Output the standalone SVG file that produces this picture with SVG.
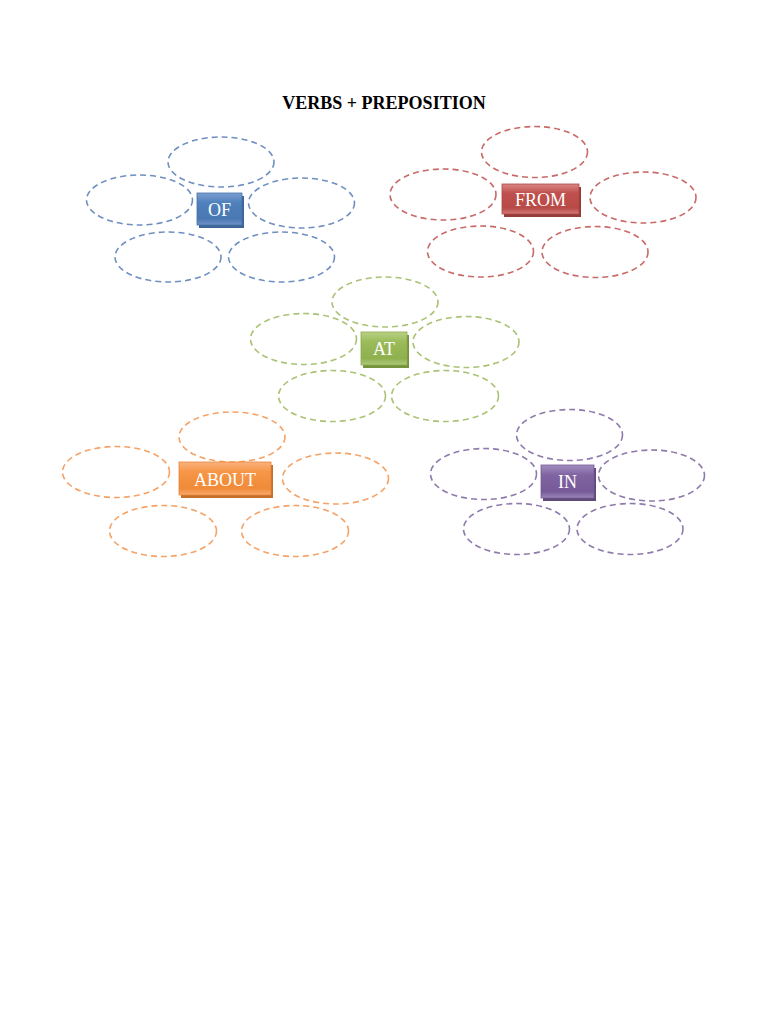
<svg xmlns="http://www.w3.org/2000/svg" width="768" height="1024" viewBox="0 0 768 1024">
<style>
  .e { fill: none; stroke-width: 1.6; stroke-dasharray: 6 4; }
  .blue .e { stroke: #6f8fc0; }
  .red .e { stroke: #c86a68; }
  .green .e { stroke: #a9c274; }
  .orange .e { stroke: #f5a266; }
  .purple .e { stroke: #8f7aac; }
  .lbl { font-family: "Liberation Serif", "DejaVu Serif", serif; font-size: 18px; fill: #ffffff; text-anchor: middle; }
  .title { font-family: "Liberation Serif", "DejaVu Serif", serif; font-size: 18px; font-weight: bold; fill: #000000; text-anchor: middle; }
</style>
<defs>
  <linearGradient id="gBlue" x1="0" y1="0" x2="0" y2="1">
    <stop offset="0" stop-color="#7d9fd0"/><stop offset="0.3" stop-color="#4f81bd"/><stop offset="0.8" stop-color="#4a78b2"/><stop offset="1" stop-color="#6f93c8"/>
  </linearGradient>
  <linearGradient id="gRed" x1="0" y1="0" x2="0" y2="1">
    <stop offset="0" stop-color="#d98785"/><stop offset="0.3" stop-color="#c0504d"/><stop offset="0.8" stop-color="#b84a47"/><stop offset="1" stop-color="#d27a78"/>
  </linearGradient>
  <linearGradient id="gGreen" x1="0" y1="0" x2="0" y2="1">
    <stop offset="0" stop-color="#b8d184"/><stop offset="0.3" stop-color="#9bbb59"/><stop offset="0.8" stop-color="#8fb04f"/><stop offset="1" stop-color="#afc97a"/>
  </linearGradient>
  <linearGradient id="gOrange" x1="0" y1="0" x2="0" y2="1">
    <stop offset="0" stop-color="#fab27e"/><stop offset="0.3" stop-color="#f79646"/><stop offset="0.8" stop-color="#ef8a38"/><stop offset="1" stop-color="#f9aa70"/>
  </linearGradient>
  <linearGradient id="gPurple" x1="0" y1="0" x2="0" y2="1">
    <stop offset="0" stop-color="#a28ec0"/><stop offset="0.3" stop-color="#8064a2"/><stop offset="0.8" stop-color="#765a98"/><stop offset="1" stop-color="#9a85b8"/>
  </linearGradient>
</defs>
<rect width="768" height="1024" fill="#ffffff"/>
<text class="title" x="384" y="108.5">VERBS + PREPOSITION</text>

<g id="of" class="blue">
  <ellipse class="e" cx="221" cy="162" rx="53" ry="25"/>
  <ellipse class="e" cx="139.5" cy="200" rx="53" ry="25"/>
  <ellipse class="e" cx="301.5" cy="203" rx="53" ry="25"/>
  <ellipse class="e" cx="168" cy="257" rx="53" ry="25"/>
  <ellipse class="e" cx="281.5" cy="257" rx="53" ry="25"/>
  <rect x="199" y="196" width="45" height="32" fill="#3d6596"/>
  <rect x="197" y="193" width="45" height="32" fill="url(#gBlue)" stroke="#4572a8" stroke-width="0.8"/>
  <text class="lbl" x="219.5" y="215.5">OF</text>
</g>

<g id="from" class="red">
  <ellipse class="e" cx="534.5" cy="152" rx="53" ry="25.5"/>
  <ellipse class="e" cx="443" cy="194.5" rx="53" ry="25.5"/>
  <ellipse class="e" cx="643" cy="197.5" rx="53" ry="25.5"/>
  <ellipse class="e" cx="480.5" cy="251.5" rx="53" ry="25.5"/>
  <ellipse class="e" cx="595" cy="252" rx="53" ry="25.5"/>
  <rect x="504" y="187" width="77" height="30" fill="#943c3a"/>
  <rect x="502" y="184" width="77" height="30" fill="url(#gRed)" stroke="#b04845" stroke-width="0.8"/>
  <text class="lbl" x="540.5" y="205.5">FROM</text>
</g>

<g id="at" class="green">
  <ellipse class="e" cx="385" cy="302" rx="53" ry="25"/>
  <ellipse class="e" cx="303.5" cy="339" rx="53" ry="25.5"/>
  <ellipse class="e" cx="466" cy="342" rx="53" ry="25.5"/>
  <ellipse class="e" cx="332" cy="396" rx="53.5" ry="25.5"/>
  <ellipse class="e" cx="445" cy="396" rx="53.5" ry="25.5"/>
  <rect x="363" y="335" width="46" height="33" fill="#76923c"/>
  <rect x="361" y="332" width="46" height="33" fill="url(#gGreen)" stroke="#8aaa4e" stroke-width="0.8"/>
  <text class="lbl" x="384" y="355">AT</text>
</g>

<g id="about" class="orange">
  <ellipse class="e" cx="232" cy="437" rx="53" ry="25"/>
  <ellipse class="e" cx="116" cy="472" rx="53.5" ry="25.5"/>
  <ellipse class="e" cx="335.5" cy="478.5" rx="53" ry="25.5"/>
  <ellipse class="e" cx="163" cy="531" rx="53.5" ry="25.5"/>
  <ellipse class="e" cx="295" cy="531" rx="53.5" ry="25.5"/>
  <rect x="181" y="465" width="92" height="33" fill="#c46f2a"/>
  <rect x="179" y="462" width="92" height="33" fill="url(#gOrange)" stroke="#e5853a" stroke-width="0.8"/>
  <text class="lbl" x="225" y="485.5">ABOUT</text>
</g>

<g id="in" class="purple">
  <ellipse class="e" cx="569.5" cy="435" rx="53" ry="25.5"/>
  <ellipse class="e" cx="483.5" cy="474" rx="53" ry="25.5"/>
  <ellipse class="e" cx="651.5" cy="475.5" rx="53" ry="25.5"/>
  <ellipse class="e" cx="516.5" cy="529" rx="53" ry="25.5"/>
  <ellipse class="e" cx="630" cy="529" rx="53" ry="25.5"/>
  <rect x="543" y="468" width="53" height="33" fill="#5f4a7a"/>
  <rect x="541" y="465" width="53" height="33" fill="url(#gPurple)" stroke="#735a94" stroke-width="0.8"/>
  <text class="lbl" x="567.5" y="488">IN</text>
</g>

<g id="connectors"></g>
</svg>
